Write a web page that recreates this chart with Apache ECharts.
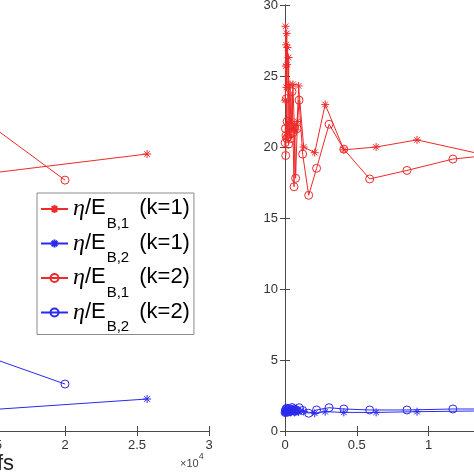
<!DOCTYPE html>
<html><head><meta charset="utf-8">
<script src="https://cdn.jsdelivr.net/npm/echarts@6/dist/echarts.min.js"></script>
<style>html,body{margin:0;padding:0;background:#fff}#c{width:474px;height:474px}</style>
</head><body><div id="c"></div>
<script>
// ---- Left subplot (x in units of 10^4) ----
const leftK1X = [1.3, 2.57];
const leftK1E1 = [26.9, 29.26];
const leftK1E2 = [2.06, 3.38];
const leftK2X = [1.5, 2.0];
const leftK2E1 = [32.1, 26.5];
const leftK2E2 = [7.65, 4.96];

// ---- Right subplot ----
const rightK1X = [0.002,0.004,0.006,0.008,0.010,0.012,0.015,0.018,0.021,0.025,0.030,0.035,0.040,0.047,0.055,0.065,0.075,0.085,0.095,0.130,0.207,0.280,0.410,0.635,0.920,1.50];
const rightK1E1 = [23.3,28.5,25.7,27.2,24.2,28.0,25.8,27.0,21.5,26.3,21.0,24.4,21.8,21.3,24.4,21.5,21.2,21.8,24.3,20.0,19.6,23.0,19.8,20.0,20.5,19.2];
const rightK1E2 = [1.35,1.45,1.30,1.40,1.32,1.48,1.35,1.42,1.28,1.40,1.33,1.45,1.30,1.38,1.42,1.30,1.35,1.40,1.33,1.38,1.25,1.36,1.31,1.31,1.36,1.43];
const rightK2X = [0.001,0.003,0.005,0.007,0.009,0.012,0.015,0.020,0.025,0.030,0.036,0.042,0.049,0.056,0.063,0.068,0.074,0.085,0.098,0.123,0.165,0.220,0.307,0.410,0.590,0.850,1.170,1.50];
const rightK2E1 = [20.3,21.3,19.4,20.8,23.4,20.6,21.8,20.7,20.2,21.5,20.9,20.6,23.9,21.0,17.2,21.4,17.8,21.3,23.3,19.5,16.6,18.5,21.6,19.85,17.75,18.35,19.15,19.5];
const rightK2E2 = [1.30,1.45,1.35,1.55,1.40,1.60,1.35,1.50,1.42,1.58,1.38,1.50,1.65,1.45,1.55,1.40,1.50,1.45,1.64,1.45,1.25,1.48,1.64,1.55,1.48,1.48,1.55,1.55];

const seriesNames = ['η/E_B,1 (k=1)', 'η/E_B,2 (k=1)', 'η/E_B,1 (k=2)', 'η/E_B,2 (k=2)'];
const legendRich = {
  'η/E_B,1 (k=1)': '{e|η}{t|/E}{s|B,1}{k|(k=1)}',
  'η/E_B,2 (k=1)': '{e|η}{t|/E}{s|B,2}{k|(k=1)}',
  'η/E_B,1 (k=2)': '{e|η}{t|/E}{s|B,1}{k|(k=2)}',
  'η/E_B,2 (k=2)': '{e|η}{t|/E}{s|B,2}{k|(k=2)}'
};

const RED = '#ee2a2a', BLUE = '#2a2aee';
const STAR = 'path://M0,-1L0,1M-1,0L1,0M-0.7,-0.7L0.7,0.7M-0.7,0.7L0.7,-0.7';
const AX = '#4a4a4a';

function pairs(xs, ys){ return xs.map((x,i)=>[x, ys[i]]); }
function mk(name, xs, ys, color, sym, xi, yi){
  return {
    name, type:'line', xAxisIndex:xi, yAxisIndex:yi,
    data: pairs(xs, ys),
    symbol: sym === 'star' ? STAR : 'circle',
    symbolSize: 8,
    showAllSymbol: true,
    lineStyle:{color, width:1},
    itemStyle:{color:'none', borderColor:color, borderWidth:1},
    emphasis:{disabled:true},
    z: 2
  };
}

function xAx(grid, pos, min, max, show){
  return {
    type:'value', gridIndex:grid, position:pos, min, max, interval:0.5,
    axisLine:{show:true, lineStyle:{color:AX, width:1}},
    axisTick:{show:true, inside:true, length:5, lineStyle:{color:AX}},
    axisLabel:{show:show, color:'#333', fontSize:13, fontFamily:'Liberation Sans', margin:8,
      formatter: v => String(+v.toFixed(2))},
    splitLine:{show:false}
  };
}
function yAx(grid, pos, min, max, show){
  return {
    type:'value', gridIndex:grid, position:pos, min, max, interval:5,
    axisLine:{show:true, lineStyle:{color:AX, width:1}},
    axisTick:{show:true, inside:true, length:5, lineStyle:{color:AX}},
    axisLabel:{show:show, color:'#333', fontSize:13, fontFamily:'Liberation Sans', margin:7},
    splitLine:{show:false}
  };
}

const chart = echarts.init(document.getElementById('c'), null, {renderer:'canvas'});
chart.setOption({
  animation:false,
  backgroundColor:'#fff',
  grid:[
    {left:-223, top:5, width:432, height:426, outerBoundsMode:'none', containLabel:false},
    {left:285, top:5, width:287, height:426, outerBoundsMode:'none', containLabel:false}
  ],
  xAxis:[ xAx(0,'bottom',0,3,true), xAx(0,'top',0,3,false), xAx(1,'bottom',0,2,true), xAx(1,'top',0,2,false) ],
  yAxis:[ yAx(0,'left',0,45,true), yAx(0,'right',0,45,false), yAx(1,'left',0,30,true), yAx(1,'right',0,30,false) ],
  legend:{
    data: seriesNames, orient:'vertical', left:37, top:193,
    itemWidth:27, itemHeight:10, itemGap:0.5, padding:[4,4,0,3],
    backgroundColor:'#fff', borderColor:'#8a8a8a', borderWidth:1,
    selectedMode:false, z:10,
    formatter: n => legendRich[n],
    textStyle:{
      color:'#000', fontFamily:'Liberation Sans', fontSize:22,
      rich:{
        e:{fontFamily:'Liberation Serif', fontStyle:'italic', fontSize:24, lineHeight:24, verticalAlign:'top', color:'#000'},
        t:{fontFamily:'Liberation Sans', fontSize:22, lineHeight:24, verticalAlign:'top', color:'#000'},
        s:{fontFamily:'Liberation Sans', fontSize:15, lineHeight:15, verticalAlign:'top', padding:[19,0,0,1], color:'#000'},
        k:{fontFamily:'Liberation Sans', fontSize:22, lineHeight:24, verticalAlign:'top', padding:[0,0,0,10], color:'#000'}
      }
    }
  },
  graphic:[
    {type:'text', left:-3, top:453, style:{text:'fs', fontSize:22, fontFamily:'Liberation Sans', fill:'#222'}},
    {type:'text', left:180, top:452, style:{text:'{a|×10}{b|4}', rich:{a:{fontSize:11, fontFamily:'Liberation Sans', fill:'#444', padding:[6,0,0,0]}, b:{fontSize:9, fontFamily:'Liberation Sans', fill:'#444', verticalAlign:'top'}}}}
  ],
  series:[
    mk(seriesNames[0], leftK1X, leftK1E1, RED, 'star', 0, 0),
    mk(seriesNames[1], leftK1X, leftK1E2, BLUE, 'star', 0, 0),
    mk(seriesNames[2], leftK2X, leftK2E1, RED, 'circle', 0, 0),
    mk(seriesNames[3], leftK2X, leftK2E2, BLUE, 'circle', 0, 0),
    mk(seriesNames[0], rightK1X, rightK1E1, RED, 'star', 2, 2),
    mk(seriesNames[1], rightK1X, rightK1E2, BLUE, 'star', 2, 2),
    mk(seriesNames[2], rightK2X, rightK2E1, RED, 'circle', 2, 2),
    mk(seriesNames[3], rightK2X, rightK2E2, BLUE, 'circle', 2, 2)
  ]
});
</script></body></html>
